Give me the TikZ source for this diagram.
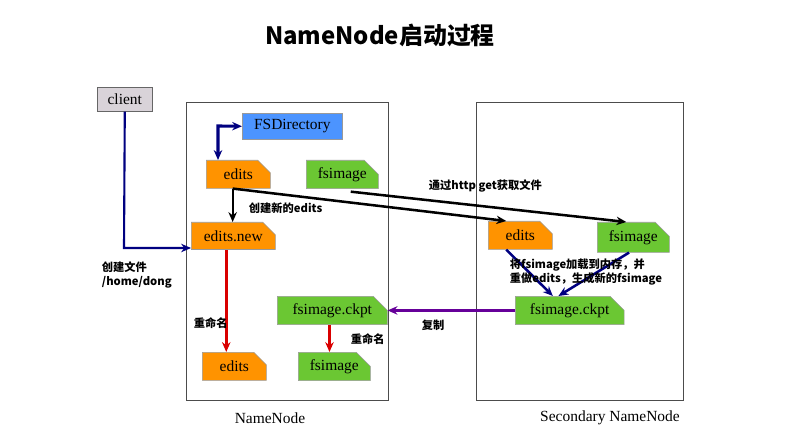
\documentclass[tikz,border=0pt]{standalone}
\usepackage{fontspec}
\setmainfont{Liberation Serif}
\newfontfamily\cjk{Noto Sans CJK SC}
\usetikzlibrary{shapes.misc,arrows.meta}
\tikzset{
  file/.style={chamfered rectangle, chamfered rectangle corners=north east,
    chamfered rectangle xsep=5pt, chamfered rectangle ysep=5pt,
    draw=black!40, inner sep=0pt, font=\fontsize{11}{11}\selectfont, anchor=north west},
  fileor/.style={file, fill=orange!85!yellow},
  filegr/.style={file, fill=green!45!olive!80},
  note/.style={font=\cjk\bfseries\fontsize{8}{10}\selectfont, align=left},
  frame/.style={draw=black!70, line width=0.6pt},
  arr/.style={-{Stealth[length=7pt,width=6pt]}, line width=1.8pt}
}
\begin{document}
\begin{tikzpicture}[x=0.025cm,y=-0.025cm]
\useasboundingbox (0,0) rectangle (801,432);
\node (title) at (380,35) {\cjk\bfseries\fontsize{17}{17}\selectfont NameNode启动过程};
% frames
\draw [frame] (186,102) rectangle (388,400);
\draw [frame] (476,102) rectangle (683,400);
\node (nn) at (270,418) {\fontsize{11}{11}\selectfont NameNode};
\node (snn) at (610,418) {\fontsize{11}{11}\selectfont Secondary NameNode};
% files
\node [draw=black!60, fill=violet!15!gray!30, minimum width=1.375cm, minimum height=0.6cm, anchor=north west, font=\fontsize{11}{11}\selectfont] (client) at (97,87) {client};
\node [draw=black!40, fill=blue!60!cyan!70, minimum width=2.5cm, minimum height=0.65cm, anchor=north west, font=\fontsize{11}{11}\selectfont] (fsdir) at (242,113) {FSDirectory};
\node [fileor, minimum width=1.6cm, minimum height=0.7cm] (edits) at (206,160) {edits};
\node [filegr, minimum width=1.8cm, minimum height=0.7cm] (fsimg) at (306,160) {fsimage};
\node [fileor, minimum width=2.1cm, minimum height=0.68cm] (editsnew) at (191,222) {edits.new};
\node [fileor, minimum width=1.6cm, minimum height=0.7cm] (sedits) at (488,221) {edits};
\node [filegr, minimum width=1.8cm, minimum height=0.75cm] (sfsimg) at (597,222) {fsimage};
\node [filegr, minimum width=2.72cm, minimum height=0.7cm] (sckpt) at (515,296) {fsimage.ckpt};
\node [filegr, minimum width=2.75cm, minimum height=0.7cm] (ckpt) at (277,296) {fsimage.ckpt};
\node [fileor, minimum width=1.6cm, minimum height=0.7cm] (edits2) at (202,352) {edits};
\node [filegr, minimum width=1.8cm, minimum height=0.7cm] (fsimg2) at (298,352) {fsimage};
% connectors
\coordinate (cc) at (124,248);
\draw [arr, line width=1.5pt, blue!50!black] (client.south) -- (cc) -- (editsnew.west |- cc);
\coordinate (fc) at (218,126);
\draw [{Stealth[length=7pt,width=6pt]}-{Stealth[length=7pt,width=6pt]}, line width=2.2pt, blue!50!black] (fsdir.west) -- (fc) -- (fc |- edits.north);
\draw [arr, line width=1.5pt] ([xshift=-4pt]edits.south) -- ([xshift=-4pt]edits.south |- editsnew.north);
\draw [arr] ([xshift=-4pt]edits.south) -- ([xshift=-10pt]sedits.north);
\draw [arr] ([xshift=6pt,yshift=-2pt]fsimg.south) -- ([xshift=-5pt]sfsimg.north);
\draw [arr, blue!50!black] ([xshift=-10pt]sedits.south) -- ([xshift=-12pt]sckpt.north);
\draw [arr, blue!50!black] ([xshift=-3pt]sfsimg.south) -- ([xshift=-8pt]sckpt.north);
\draw [arr, violet!80!blue] (sckpt.west) -- (ckpt.east);
\draw [arr, red!85!black] ([xshift=-5pt]editsnew.south) -- ([xshift=-5pt]editsnew.south |- edits2.north);
\draw [arr, red!85!black] ([xshift=-2pt]ckpt.south) -- ([xshift=-2pt]ckpt.south |- fsimg2.north);
% labels
\node [note, anchor=west] (l1) at (244,208) {创建新的edits};
\node [note, anchor=west] (l2) at (424,186) {通过http get获取文件};
\node [note, anchor=west] (l3) at (505,272) {将fsimage加载到内存，并\\重做edits，生成新的fsimage};
\node [note, anchor=west] (l4) at (97,275) {创建文件\\/home/dong};
\node [note, anchor=west] (l5) at (189,323) {重命名};
\node [note, anchor=west] (l6) at (346,339) {重命名};
\node [note, anchor=west] (l7) at (417,325) {复制};
\end{tikzpicture}
\end{document}
